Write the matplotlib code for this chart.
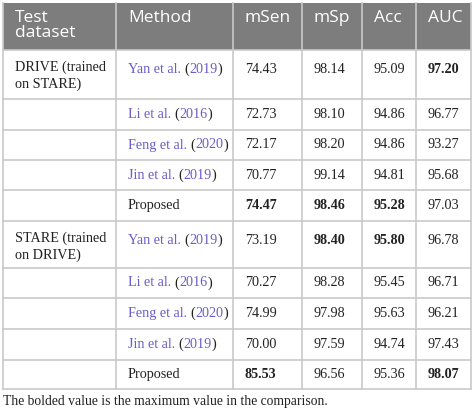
import matplotlib
matplotlib.use("Agg")
import matplotlib.pyplot as plt

headers = ["Test\ndataset", "Method", "mSen", "mSp", "Acc", "AUC"]
datasets = ["DRIVE (trained\non STARE)", "", "", "", "", "STARE (trained\non DRIVE)", "", "", "", ""]
authors = ["Yan et al.", "Li et al.", "Feng et al.", "Jin et al.", None] * 2
years = ["2019", "2016", "2020", "2019", None] * 2
mSen = ["74.43", "72.73", "72.17", "70.77", "74.47", "73.19", "70.27", "74.99", "70.00", "85.53"]
mSp = ["98.14", "98.10", "98.20", "99.14", "98.46", "98.40", "98.28", "97.98", "97.59", "96.56"]
Acc = ["95.09", "94.86", "94.86", "94.81", "95.28", "95.80", "95.45", "95.63", "94.74", "95.36"]
AUC = ["97.20", "96.77", "93.27", "95.68", "97.03", "96.78", "96.71", "96.21", "97.43", "98.07"]
bold = {(4, 0), (4, 1), (4, 2), (0, 3), (5, 1), (5, 2), (9, 0), (9, 3)}
footnote = "The bolded value is the maximum value in the comparison."

fig = plt.figure(figsize=(4.74, 4.12), dpi=100)
ax = fig.add_axes([0, 0, 1, 1])
ax.set_xlim(0, 474); ax.set_ylim(412, 0); ax.axis("off")

xs = [3, 116, 233, 302, 362, 416, 471]
ys = [3, 50, 99, 130, 160, 190, 221, 268, 298, 329, 360, 389]
grid = "#c9c9c9"
ax.add_patch(plt.Rectangle((xs[0], ys[0]), xs[-1]-xs[0], ys[1]-ys[0], color="#7d7d7d", lw=0))
for y in ys[1:]:
    ax.plot([xs[0], xs[-1]], [y, y], color=grid, lw=1.2)
for x in xs:
    ax.plot([x, x], [ys[0], ys[-1]], color=grid, lw=1.2)

sans = "Open Sans"; serif = "Liberation Serif"
fs = 10.2
for i, h in enumerate(headers):
    ax.text(xs[i] + 12, ys[0] + 7, h, family=sans, color="white", fontsize=12.5,
            va="top", ha="left", linespacing=0.95)

link = "#6a5fc8"
for r in range(10):
    top, bot = ys[r+1], ys[r+2]
    tall = (bot - top) > 40
    yc = top + 19 if tall else (top + bot) / 2
    if datasets[r]:
        ax.text(xs[0] + 12, top + 11, datasets[r], family=serif, fontsize=fs,
                va="top", ha="left", linespacing=1.3, color="#222222")
    if authors[r] is None:
        ax.text(xs[1] + 12, yc, "Proposed", family=serif, fontsize=fs, va="center", color="#222222")
    else:
        t = ax.text(xs[1] + 12, yc, authors[r] + " ", family=serif, fontsize=fs, va="center", color=link)
        for s, c in [("(", "#222222"), (years[r], link), (")", "#222222")]:
            t = ax.annotate(s, xy=(1, 0), xycoords=t, va="bottom", ha="left",
                            family=serif, fontsize=fs, color=c)
    for j, col in enumerate([mSen, mSp, Acc, AUC]):
        ax.text(xs[2+j] + 12, yc, col[r], family=serif, fontsize=fs, va="center", ha="left",
                color="#222222", weight="bold" if (r, j) in bold else "normal")

ax.text(xs[0], 402, footnote, family=serif, fontsize=9.8, va="center", ha="left", color="#222222")
fig.savefig("out.png", dpi=100)
